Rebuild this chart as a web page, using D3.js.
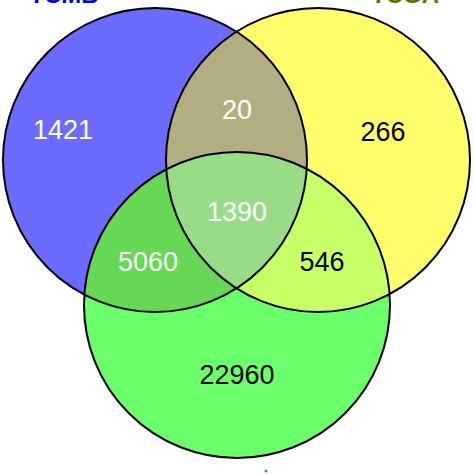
<!DOCTYPE html><html><head><script src="https://d3js.org/d3.v7.min.js"></script>
<style>body{margin:0;background:#fff}</style></head><body><svg width="474" height="474"></svg>
<script>
const sets=["TCMB","TCGA"];
const setColors=["#0000ee","#6b6b00"];
const counts=[1421,20,266,1390,5060,546,22960];
const countColors=["#fff","#fff","#000","#fff","#fff","#000","#000"];
const svg=d3.select("svg");
const x=d3.scaleLinear().domain([0,474]).range([0,474]);
const circles=[{cx:155,cy:160,r:152,f:"#6b6bff"},{cx:318,cy:160,r:152,f:"#ffff6b"},{cx:237,cy:305,r:153,f:"#6bff6b"}];
const defs=svg.append("defs");
circles.forEach((c,i)=>defs.append("clipPath").attr("id","c"+i).append("circle").attr("cx",x(c.cx)).attr("cy",c.cy).attr("r",c.r));
circles.forEach(c=>svg.append("circle").attr("cx",x(c.cx)).attr("cy",c.cy).attr("r",c.r).attr("fill",c.f));
function region(a,b,col){svg.append("g").attr("clip-path",`url(#c${a})`).append("circle").attr("cx",x(circles[b].cx)).attr("cy",circles[b].cy).attr("r",circles[b].r).attr("fill",col);}
region(0,1,"#b3ae82");region(0,2,"#66d855");region(1,2,"#c8ff66");
svg.append("g").attr("clip-path","url(#c0)").append("g").attr("clip-path","url(#c1)").append("circle").attr("cx",x(circles[2].cx)).attr("cy",circles[2].cy).attr("r",circles[2].r).attr("fill","#98dc88");
circles.forEach(c=>svg.append("circle").attr("cx",x(c.cx)).attr("cy",c.cy).attr("r",c.r).attr("fill","none").attr("stroke","#000").attr("stroke-width",2));
const pos=[[63,130],[237,110],[383,132],[237,212],[148,262],[322,262],[237,375]];
counts.forEach((v,i)=>svg.append("text").attr("x",x(pos[i][0])).attr("y",pos[i][1]).attr("dy","0.35em").attr("text-anchor","middle").attr("font-family","Liberation Sans, Arial").attr("font-size",27).attr("fill",countColors[i]).text(v));
svg.append("text").attr("x",64).attr("y",3).attr("text-anchor","middle").attr("font-family","Liberation Sans").attr("font-size",24).attr("font-weight","bold").attr("fill",setColors[0]).text(sets[0]);
svg.append("text").attr("x",405).attr("y",3).attr("text-anchor","middle").attr("font-family","Liberation Sans").attr("font-size",24).attr("font-weight","bold").attr("fill",setColors[1]).text(sets[1]);
svg.append("circle").attr("cx",266).attr("cy",471).attr("r",1.5).attr("fill","#33aa33");
</script></body></html>
